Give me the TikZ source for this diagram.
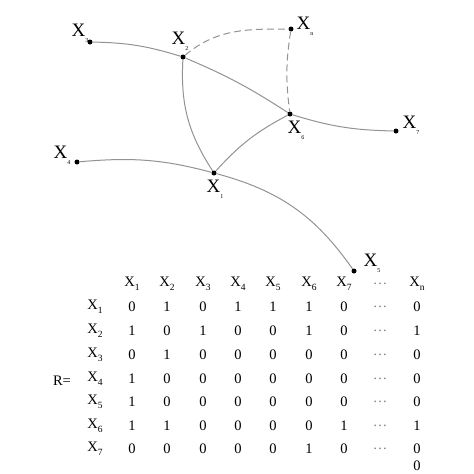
\documentclass[tikz,border=0pt]{standalone}
\usepackage{fontspec}
\setmainfont{Liberation Serif}
\newcommand{\glab}[1]{X\raisebox{-0.3em}{\fontsize{6}{6}\selectfont #1}}
\newcommand{\mlab}[1]{X\raisebox{-0.25em}{\fontsize{9.5}{9.5}\selectfont #1}}
\newcommand{\md}{{\color{gray}…}}
\tikzset{
  edge/.style={draw=gray!85, line width=1pt},
  dashedge/.style={edge, dash pattern=on 7pt off 4pt},
  vdot/.style={circle, fill=black, inner sep=0pt, minimum size=5pt},
  glabel/.style={inner sep=0pt, font=\fontsize{19}{19}\selectfont},
  mcell/.style={inner sep=0pt, font=\fontsize{14.5}{14.5}\selectfont},
}
\begin{document}
\begin{tikzpicture}[x=1pt,y=-1pt]
\fill[white] (0,0) rectangle (474,474);
\useasboundingbox (0,0) rectangle (474,474);
% vertices
\node[vdot] (x3) at (90,42) {};
\node[vdot] (x2) at (183,57) {};
\node[vdot] (xn) at (291,29) {};
\node[vdot] (x6) at (290,114) {};
\node[vdot] (x7) at (396,131) {};
\node[vdot] (x4) at (77,162) {};
\node[vdot] (x1) at (214,173) {};
\node[vdot] (x5) at (354,271) {};
% labels
\node[glabel] (l3) at (80,33) {\glab{3}};
\node[glabel] (l2) at (180,41) {\glab{2}};
\node[glabel] (ln) at (305,26) {\glab{n}};
\node[glabel] (l6) at (296,130) {\glab{6}};
\node[glabel] (l7) at (411,125) {\glab{7}};
\node[glabel] (l4) at (62,155) {\glab{4}};
\node[glabel] (l1) at (215,189) {\glab{1}};
\node[glabel] (l5) at (372,263) {\glab{5}};
% edges
\draw[edge] (x3) to[bend left=8] (x2);
\draw[dashedge] (x2) to[out=40,in=180] (xn);
\draw[dashedge] (xn) to[bend right=8] (x6);
\draw[edge] (x2) to[bend left=5] (x6);
\draw[edge] (x6) to[bend right=8] (x7);
\draw[edge] (x2) to[bend right=18] (x1);
\draw[edge] (x1) to[bend left=10] (x6);
\draw[edge] (x4) to[out=5,in=165] (x1) to[out=-15,in=125] (x5);
% matrix
\def\colx{{132,167,203,238,273,309,344,380,417}}
\def\rowy{{307,331,355,379,402,426,449}}
\foreach \hv [count=\j] in {\mlab{1},\mlab{2},\mlab{3},\mlab{4},\mlab{5},\mlab{6},\mlab{7},\md,\mlab{n}}{
  \pgfmathsetmacro\cx{\colx[\j-1]}
  \node[mcell] (h-\j) at (\cx,284) {\hv};
}
\foreach \i in {1,...,7}{
  \pgfmathsetmacro\cy{\rowy[\i-1]}
  \node[mcell] (r-\i) at (95,\cy) {\mlab{\i}};
}
\foreach \vals [count=\i] in {{0,1,0,1,1,1,0,\md,0},{1,0,1,0,0,1,0,\md,1},{0,1,0,0,0,0,0,\md,0},{1,0,0,0,0,0,0,\md,0},{1,0,0,0,0,0,0,\md,0},{1,1,0,0,0,0,1,\md,1},{0,0,0,0,0,1,0,\md,0}}{
  \foreach \v [count=\j] in \vals {
    \pgfmathsetmacro\cx{\colx[\j-1]}
    \pgfmathsetmacro\cy{\rowy[\i-1]}
    \node[mcell] (e-\i-\j) at (\cx,\cy) {\v};
  }
}
\node[mcell] (e-8-9) at (417,466) {0};
\node[mcell] (rlab) at (62,381) {R=};
\end{tikzpicture}
\end{document}
